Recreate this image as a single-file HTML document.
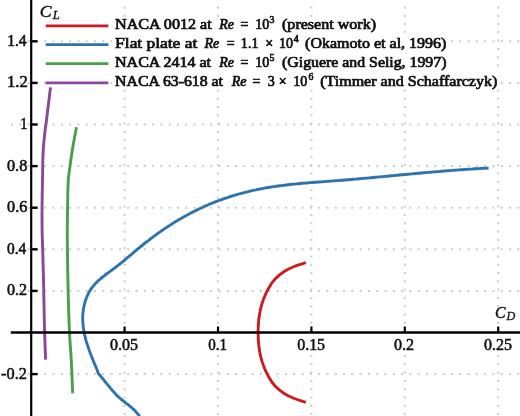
<!DOCTYPE html>
<html><head><meta charset="utf-8"><title>Lift-drag polar</title>
<style>
html,body{margin:0;padding:0;background:#fff;}
body{width:520px;height:416px;overflow:hidden;}
svg{display:block;filter:blur(0.3px);}
text{font-family:"Liberation Serif",serif;fill:#111;}
.mi{font-style:italic;}
</style></head>
<body>
<svg width="520" height="416" viewBox="0 0 520 416">
<rect width="520" height="416" fill="#fff"/>
<g stroke="#cbcbcb" stroke-width="2" fill="none" stroke-dasharray="2 6.30">
<line x1="124.60" y1="-1.90" x2="124.60" y2="421"/>
<line x1="218.00" y1="-1.90" x2="218.00" y2="421"/>
<line x1="311.40" y1="-1.90" x2="311.40" y2="421"/>
<line x1="404.80" y1="-1.90" x2="404.80" y2="421"/>
<line x1="498.20" y1="-1.90" x2="498.20" y2="421"/>
<line x1="11" y1="374.10" x2="525" y2="374.10"/>
<line x1="11" y1="290.90" x2="525" y2="290.90"/>
<line x1="11" y1="249.30" x2="525" y2="249.30"/>
<line x1="11" y1="207.70" x2="525" y2="207.70"/>
<line x1="11" y1="166.10" x2="525" y2="166.10"/>
<line x1="11" y1="124.50" x2="525" y2="124.50"/>
<line x1="11" y1="82.90" x2="525" y2="82.90"/>
<line x1="11" y1="41.30" x2="525" y2="41.30"/>
</g>
<g fill="#fff">
<rect x="111.9" y="17.0" width="266.4" height="16.3"/>
<rect x="112.1" y="32.9" width="337.4" height="19.3"/>
<rect x="111.9" y="51.8" width="337.2" height="19.3"/>
<rect x="111.9" y="70.7" width="388.2" height="18.5"/>
<rect x="108.3" y="337.6" width="31.4" height="15"/>
<rect x="206.1" y="337.6" width="22.6" height="15"/>
<rect x="295.1" y="337.6" width="31.4" height="15"/>
<rect x="392.4" y="337.6" width="23.5" height="15"/>
<rect x="481.9" y="337.6" width="31.4" height="15"/>
</g>
<path d="M50.50,87.30 C50.18,89.92 49.23,97.80 48.60,103.00 C47.97,108.20 47.35,113.37 46.70,118.50 C46.05,123.63 45.25,129.00 44.70,133.80 C44.15,138.60 43.72,142.93 43.40,147.30 C43.08,151.67 42.93,155.13 42.80,160.00 C42.67,164.87 42.72,169.33 42.60,176.50 C42.48,183.67 42.18,194.25 42.10,203.00 C42.02,211.75 42.00,221.17 42.10,229.00 C42.20,236.83 42.47,241.70 42.70,250.00 C42.93,258.30 43.22,266.30 43.50,278.80 C43.78,291.30 44.05,311.53 44.40,325.00 C44.75,338.47 45.40,353.83 45.60,359.60" fill="none" stroke="#8a489a" stroke-width="2.9" stroke-linejoin="round"/>
<path d="M76.50,127.30 C76.12,129.28 74.97,134.97 74.20,139.20 C73.43,143.43 72.60,148.20 71.90,152.70 C71.20,157.20 70.57,162.03 70.00,166.20 C69.43,170.37 68.85,173.87 68.50,177.70 C68.15,181.53 68.03,185.48 67.90,189.20 C67.77,192.92 67.77,195.91 67.70,200.00 C67.63,204.09 67.57,207.08 67.50,213.75 C67.43,220.42 67.20,227.29 67.30,240.00 C67.40,252.71 67.73,274.58 68.10,290.00 C68.47,305.42 69.02,321.62 69.50,332.50 C69.98,343.38 70.60,348.42 71.00,355.30 C71.40,362.18 71.62,367.48 71.90,373.80 C72.18,380.12 72.57,389.97 72.70,393.20" fill="none" stroke="#4a9f4c" stroke-width="2.9" stroke-linejoin="round"/>
<path d="M139.9,417.2 L139.2,416.1 L138.6,415.0 L137.8,414.0 L137.0,413.0 L136.2,412.1 L135.4,411.1 L134.5,410.2 L133.6,409.4 L132.6,408.5 L131.7,407.6 L130.7,406.8 L129.7,406.0 L128.7,405.2 L127.7,404.4 L126.7,403.6 L125.6,402.8 L124.6,402.0 L123.6,401.2 L122.5,400.3 L121.5,399.5 L120.5,398.7 L119.6,397.8 L118.6,397.0 L117.6,396.1 L116.7,395.2 L115.8,394.2 L114.9,393.3 L114.0,392.3 L113.2,391.4 L112.3,390.4 L111.5,389.4 L110.6,388.4 L109.8,387.4 L109.0,386.4 L108.2,385.4 L107.3,384.4 L106.5,383.4 L105.7,382.3 L104.9,381.3 L104.1,380.3 L103.3,379.3 L102.4,378.3 L101.6,377.3 L100.8,376.3 L99.9,375.3 L99.1,374.4 L98.2,373.4 L97.7,371.4 L96.9,369.5 L96.2,367.7 L95.4,365.9 L94.6,364.0 L93.9,362.2 L93.1,360.3 L92.4,358.4 L91.6,356.5 L90.9,354.6 L90.1,352.7 L89.4,350.8 L88.7,348.9 L88.1,346.9 L87.4,345.0 L86.8,343.0 L86.2,341.1 L85.7,339.1 L85.2,337.1 L84.7,335.1 L84.3,333.1 L83.9,331.1 L83.6,329.1 L83.3,327.1 L83.1,325.1 L82.9,323.1 L82.8,321.0 L82.7,319.0 L82.7,317.0 L82.8,314.9 L83.0,312.9 L83.2,310.9 L83.5,308.8 L83.8,306.8 L84.3,304.9 L84.8,302.9 L85.3,301.0 L86.0,299.0 L86.7,297.2 L87.5,295.3 L88.4,293.5 L89.3,291.8 L90.3,290.1 L91.4,288.4 L92.6,286.8 L93.8,285.3 L95.2,283.8 L96.6,282.4 L98.0,281.0 L99.5,279.6 L101.0,278.3 L102.6,277.0 L104.2,275.8 L105.8,274.5 L107.5,273.3 L109.1,272.1 L110.8,270.9 L112.5,269.6 L114.1,268.4 L115.8,267.2 L117.4,265.9 L119.0,264.7 L120.6,263.4 L122.2,262.1 L123.7,260.8 L125.3,259.5 L126.8,258.2 L128.4,256.9 L129.9,255.6 L131.5,254.3 L133.0,253.0 L134.6,251.7 L136.1,250.4 L137.6,249.1 L139.2,247.8 L140.8,246.5 L142.3,245.3 L143.9,244.0 L145.5,242.7 L147.1,241.5 L148.7,240.3 L150.3,239.0 L151.9,237.8 L153.5,236.6 L155.1,235.4 L156.8,234.2 L158.4,233.0 L160.1,231.9 L161.7,230.7 L163.4,229.5 L165.1,228.4 L166.8,227.3 L168.5,226.2 L170.2,225.1 L171.9,224.0 L173.6,222.9 L175.3,221.8 L177.1,220.8 L178.8,219.7 L180.6,218.7 L182.3,217.7 L184.1,216.7 L185.9,215.7 L187.7,214.7 L189.5,213.8 L191.3,212.8 L193.1,211.9 L194.9,211.0 L196.7,210.1 L198.5,209.2 L200.4,208.3 L202.2,207.5 L204.0,206.7 L205.9,205.8 L207.8,205.0 L209.6,204.2 L211.5,203.4 L213.4,202.7 L215.3,201.9 L217.2,201.2 L219.1,200.5 L221.0,199.8 L222.9,199.1 L224.8,198.4 L226.8,197.8 L228.7,197.1 L230.6,196.5 L232.6,195.9 L234.5,195.3 L236.5,194.7 L238.4,194.2 L240.4,193.6 L242.3,193.1 L244.3,192.6 L246.2,192.1 L248.2,191.6 L250.2,191.1 L252.2,190.6 L254.2,190.2 L256.1,189.8 L258.1,189.3 L260.1,189.0 L262.1,188.6 L264.1,188.2 L266.1,187.8 L268.1,187.5 L270.1,187.2 L272.1,186.9 L274.1,186.6 L276.1,186.3 L278.1,186.0 L280.1,185.7 L282.1,185.5 L284.1,185.2 L286.1,185.0 L288.2,184.7 L290.2,184.5 L292.2,184.3 L294.2,184.1 L296.2,183.9 L298.3,183.7 L300.3,183.5 L302.3,183.3 L304.3,183.1 L306.4,183.0 L308.4,182.8 L310.4,182.6 L312.4,182.5 L314.5,182.3 L316.5,182.2 L318.5,182.0 L320.5,181.9 L322.6,181.7 L324.6,181.6 L326.6,181.4 L328.7,181.3 L330.7,181.1 L332.7,180.9 L334.7,180.8 L336.8,180.6 L338.8,180.5 L340.8,180.3 L342.9,180.2 L344.9,180.0 L346.9,179.8 L348.9,179.7 L351.0,179.5 L353.0,179.3 L355.0,179.1 L357.0,179.0 L359.1,178.8 L361.1,178.6 L363.1,178.4 L365.1,178.2 L367.2,178.1 L369.2,177.9 L371.2,177.7 L373.2,177.5 L375.2,177.3 L377.3,177.1 L379.3,176.9 L381.3,176.8 L383.3,176.6 L385.4,176.4 L387.4,176.2 L389.4,176.0 L391.4,175.8 L393.4,175.6 L395.5,175.4 L397.5,175.2 L399.5,175.0 L401.5,174.8 L403.6,174.7 L405.6,174.5 L407.6,174.3 L409.6,174.1 L411.6,173.9 L413.7,173.7 L415.7,173.5 L417.7,173.3 L419.7,173.2 L421.7,173.0 L423.8,172.8 L425.8,172.6 L427.8,172.4 L429.8,172.3 L431.9,172.1 L433.9,171.9 L435.9,171.7 L437.9,171.6 L440.0,171.4 L442.0,171.2 L444.0,171.0 L446.0,170.9 L448.1,170.7 L450.1,170.6 L452.1,170.4 L454.1,170.2 L456.2,170.1 L458.2,169.9 L460.2,169.8 L462.2,169.7 L464.3,169.5 L466.3,169.4 L468.3,169.2 L470.3,169.1 L472.4,169.0 L474.4,168.8 L476.4,168.7 L478.5,168.6 L480.5,168.5 L482.5,168.4 L484.6,168.3 L486.6,168.2 L488.6,168.1" fill="none" stroke="#2f73ad" stroke-width="2.9" stroke-linejoin="round"/>
<path d="M305.80,262.70 C303.87,263.33 297.73,265.07 294.20,266.50 C290.67,267.93 287.80,269.22 284.60,271.30 C281.40,273.38 277.72,276.10 275.00,279.00 C272.28,281.90 270.22,285.33 268.30,288.70 C266.38,292.07 264.78,295.85 263.50,299.20 C262.22,302.55 261.40,305.27 260.60,308.80 C259.80,312.33 259.12,316.45 258.70,320.40 C258.28,324.35 258.10,328.47 258.10,332.50 C258.10,336.53 258.28,340.65 258.70,344.60 C259.12,348.55 259.80,352.67 260.60,356.20 C261.40,359.73 262.22,362.45 263.50,365.80 C264.78,369.15 266.38,372.93 268.30,376.30 C270.22,379.67 272.28,383.10 275.00,386.00 C277.72,388.90 281.40,391.62 284.60,393.70 C287.80,395.78 290.67,397.07 294.20,398.50 C297.73,399.93 303.87,401.67 305.80,402.30" fill="none" stroke="#cc1a20" stroke-width="2.9" stroke-linejoin="round"/>
<line x1="45.7" y1="25.8" x2="108.4" y2="25.8" stroke="#cc1a20" stroke-width="2.8"/>
<line x1="45.7" y1="44.6" x2="108.4" y2="44.6" stroke="#2f73ad" stroke-width="2.8"/>
<line x1="45.7" y1="63.7" x2="108.4" y2="63.7" stroke="#4a9f4c" stroke-width="2.8"/>
<line x1="45.7" y1="82.8" x2="108.4" y2="82.8" stroke="#8a489a" stroke-width="2.8"/>
<line x1="10.8" y1="332.5" x2="520" y2="332.5" stroke="#000" stroke-width="2.5"/>
<line x1="31.2" y1="0" x2="31.2" y2="416" stroke="#000" stroke-width="2.2"/>
<line x1="124.60" y1="332.5" x2="124.60" y2="326.50" stroke="#000" stroke-width="2.2"/>
<line x1="218.00" y1="332.5" x2="218.00" y2="326.50" stroke="#000" stroke-width="2.2"/>
<line x1="311.40" y1="332.5" x2="311.40" y2="326.50" stroke="#000" stroke-width="2.2"/>
<line x1="404.80" y1="332.5" x2="404.80" y2="326.50" stroke="#000" stroke-width="2.2"/>
<line x1="498.20" y1="332.5" x2="498.20" y2="326.50" stroke="#000" stroke-width="2.2"/>
<line x1="31.2" y1="374.10" x2="37.60" y2="374.10" stroke="#000" stroke-width="2.4"/>
<line x1="31.2" y1="290.90" x2="37.60" y2="290.90" stroke="#000" stroke-width="2.4"/>
<line x1="31.2" y1="249.30" x2="37.60" y2="249.30" stroke="#000" stroke-width="2.4"/>
<line x1="31.2" y1="207.70" x2="37.60" y2="207.70" stroke="#000" stroke-width="2.4"/>
<line x1="31.2" y1="166.10" x2="37.60" y2="166.10" stroke="#000" stroke-width="2.4"/>
<line x1="31.2" y1="124.50" x2="37.60" y2="124.50" stroke="#000" stroke-width="2.4"/>
<line x1="31.2" y1="82.90" x2="37.60" y2="82.90" stroke="#000" stroke-width="2.4"/>
<line x1="31.2" y1="41.30" x2="37.60" y2="41.30" stroke="#000" stroke-width="2.4"/>
<text class="sg" x="7.16" y="45.80" style="stroke:#111;stroke-width:0.55px;font-size:15.8px;" textLength="19.47" lengthAdjust="spacingAndGlyphs">1.4</text>
<text class="sg" x="6.93" y="87.40" style="stroke:#111;stroke-width:0.55px;font-size:15.8px;" textLength="20.87" lengthAdjust="spacingAndGlyphs">1.2</text>
<text class="sg" x="20.29" y="129.00" style="stroke:#111;stroke-width:0.55px;font-size:15.8px;" textLength="7.26" lengthAdjust="spacingAndGlyphs">1</text>
<text class="sg" x="6.99" y="170.60" style="stroke:#111;stroke-width:0.55px;font-size:15.8px;" textLength="20.27" lengthAdjust="spacingAndGlyphs">0.8</text>
<text class="sg" x="7.06" y="212.20" style="stroke:#111;stroke-width:0.55px;font-size:15.8px;" textLength="20.21" lengthAdjust="spacingAndGlyphs">0.6</text>
<text class="sg" x="6.99" y="253.80" style="stroke:#111;stroke-width:0.55px;font-size:15.8px;" textLength="19.30" lengthAdjust="spacingAndGlyphs">0.4</text>
<text class="sg" x="7.02" y="295.40" style="stroke:#111;stroke-width:0.55px;font-size:15.8px;" textLength="20.17" lengthAdjust="spacingAndGlyphs">0.2</text>
<text class="sg" x="1.08" y="378.60" style="stroke:#111;stroke-width:0.55px;font-size:15.8px;" textLength="25.84" lengthAdjust="spacingAndGlyphs">-0.2</text>
<text class="sg" x="110.09" y="349.60" style="stroke:#111;stroke-width:0.55px;font-size:15.8px;" textLength="28.00" lengthAdjust="spacingAndGlyphs">0.05</text>
<text class="sg" x="208.22" y="349.60" style="stroke:#111;stroke-width:0.55px;font-size:15.8px;" textLength="18.82" lengthAdjust="spacingAndGlyphs">0.1</text>
<text class="sg" x="297.19" y="349.60" style="stroke:#111;stroke-width:0.55px;font-size:15.8px;" textLength="27.92" lengthAdjust="spacingAndGlyphs">0.15</text>
<text class="sg" x="394.00" y="349.60" style="stroke:#111;stroke-width:0.55px;font-size:15.8px;" textLength="20.14" lengthAdjust="spacingAndGlyphs">0.2</text>
<text class="sg" x="484.14" y="349.60" style="stroke:#111;stroke-width:0.55px;font-size:15.8px;" textLength="27.94" lengthAdjust="spacingAndGlyphs">0.25</text>
<text class="sg" x="115.09" y="29.00" style="stroke:#111;stroke-width:0.7px;font-size:14.0px;" textLength="96.61" lengthAdjust="spacingAndGlyphs">NACA 0012 at</text>
<text class="sg" x="219.25" y="29.00" style="font-style:italic;stroke:#111;stroke-width:0.7px;font-size:14.0px;">Re</text>
<text class="sg" x="240.60" y="29.00" style="stroke:#111;stroke-width:0.7px;font-size:14.0px;">=</text>
<text class="sg" x="255.20" y="29.00" style="stroke:#111;stroke-width:0.7px;font-size:14.0px;">10</text>
<text class="sg" x="269.60" y="23.40" style="stroke:#111;stroke-width:0.7px;font-size:9.8px;">3</text>
<text class="sg" x="282.03" y="29.00" style="stroke:#111;stroke-width:0.7px;font-size:14.0px;" textLength="94.01" lengthAdjust="spacingAndGlyphs">(present work)</text>
<text class="sg" x="115.13" y="47.90" style="stroke:#111;stroke-width:0.7px;font-size:14.0px;" textLength="82.12" lengthAdjust="spacingAndGlyphs">Flat plate at</text>
<text class="sg" x="204.50" y="47.90" style="font-style:italic;stroke:#111;stroke-width:0.7px;font-size:14.0px;">Re</text>
<text class="sg" x="226.80" y="47.90" style="stroke:#111;stroke-width:0.7px;font-size:14.0px;">=</text>
<text class="sg" x="240.88" y="47.90" style="stroke:#111;stroke-width:0.7px;font-size:14.0px;" textLength="17.58" lengthAdjust="spacingAndGlyphs">1.1</text>
<text class="sg" x="265.35" y="47.90" style="stroke:#111;stroke-width:0.7px;font-size:14.0px;">×</text>
<text class="sg" x="278.90" y="47.90" style="stroke:#111;stroke-width:0.7px;font-size:14.0px;">10</text>
<text class="sg" x="293.70" y="42.30" style="stroke:#111;stroke-width:0.7px;font-size:9.8px;">4</text>
<text class="sg" x="305.14" y="47.90" style="stroke:#111;stroke-width:0.7px;font-size:14.0px;" textLength="141.31" lengthAdjust="spacingAndGlyphs">(Okamoto et al, 1996)</text>
<text class="sg" x="115.09" y="66.80" style="stroke:#111;stroke-width:0.7px;font-size:14.0px;" textLength="95.91" lengthAdjust="spacingAndGlyphs">NACA 2414 at</text>
<text class="sg" x="219.25" y="66.80" style="font-style:italic;stroke:#111;stroke-width:0.7px;font-size:14.0px;">Re</text>
<text class="sg" x="240.60" y="66.80" style="stroke:#111;stroke-width:0.7px;font-size:14.0px;">=</text>
<text class="sg" x="255.20" y="66.80" style="stroke:#111;stroke-width:0.7px;font-size:14.0px;">10</text>
<text class="sg" x="269.60" y="61.20" style="stroke:#111;stroke-width:0.7px;font-size:9.8px;">5</text>
<text class="sg" x="282.05" y="66.80" style="stroke:#111;stroke-width:0.7px;font-size:14.0px;" textLength="164.43" lengthAdjust="spacingAndGlyphs">(Giguere and Selig, 1997)</text>
<text class="sg" x="115.09" y="85.70" style="stroke:#111;stroke-width:0.7px;font-size:14.0px;" textLength="107.90" lengthAdjust="spacingAndGlyphs">NACA 63-618 at</text>
<text class="sg" x="231.65" y="85.70" style="font-style:italic;stroke:#111;stroke-width:0.7px;font-size:14.0px;">Re</text>
<text class="sg" x="252.60" y="85.70" style="stroke:#111;stroke-width:0.7px;font-size:14.0px;">=</text>
<text class="sg" x="267.75" y="85.70" style="stroke:#111;stroke-width:0.7px;font-size:14.0px;">3</text>
<text class="sg" x="278.75" y="85.70" style="stroke:#111;stroke-width:0.7px;font-size:14.0px;">×</text>
<text class="sg" x="293.20" y="85.70" style="stroke:#111;stroke-width:0.7px;font-size:14.0px;">10</text>
<text class="sg" x="308.45" y="80.10" style="stroke:#111;stroke-width:0.7px;font-size:9.8px;">6</text>
<text class="sg" x="320.15" y="85.70" style="stroke:#111;stroke-width:0.7px;font-size:14.0px;" textLength="177.23" lengthAdjust="spacingAndGlyphs">(Timmer and Schaffarczyk)</text>
<text class="sg" x="39.73" y="16.90" style="font-style:italic;stroke:#111;stroke-width:0.45px;font-size:17.5px;" textLength="11.83" lengthAdjust="spacingAndGlyphs">C</text>
<text class="sg" x="52.73" y="19.20" style="font-style:italic;stroke:#111;stroke-width:0.3px;font-size:12.8px;" textLength="7.03" lengthAdjust="spacingAndGlyphs">L</text>
<text class="sg" x="494.96" y="318.10" style="font-style:italic;stroke:#111;stroke-width:0.45px;font-size:17.5px;" textLength="10.56" lengthAdjust="spacingAndGlyphs">C</text>
<text class="sg" x="506.56" y="320.00" style="font-style:italic;stroke:#111;stroke-width:0.3px;font-size:12.8px;" textLength="8.76" lengthAdjust="spacingAndGlyphs">D</text>
</svg>
</body></html>
